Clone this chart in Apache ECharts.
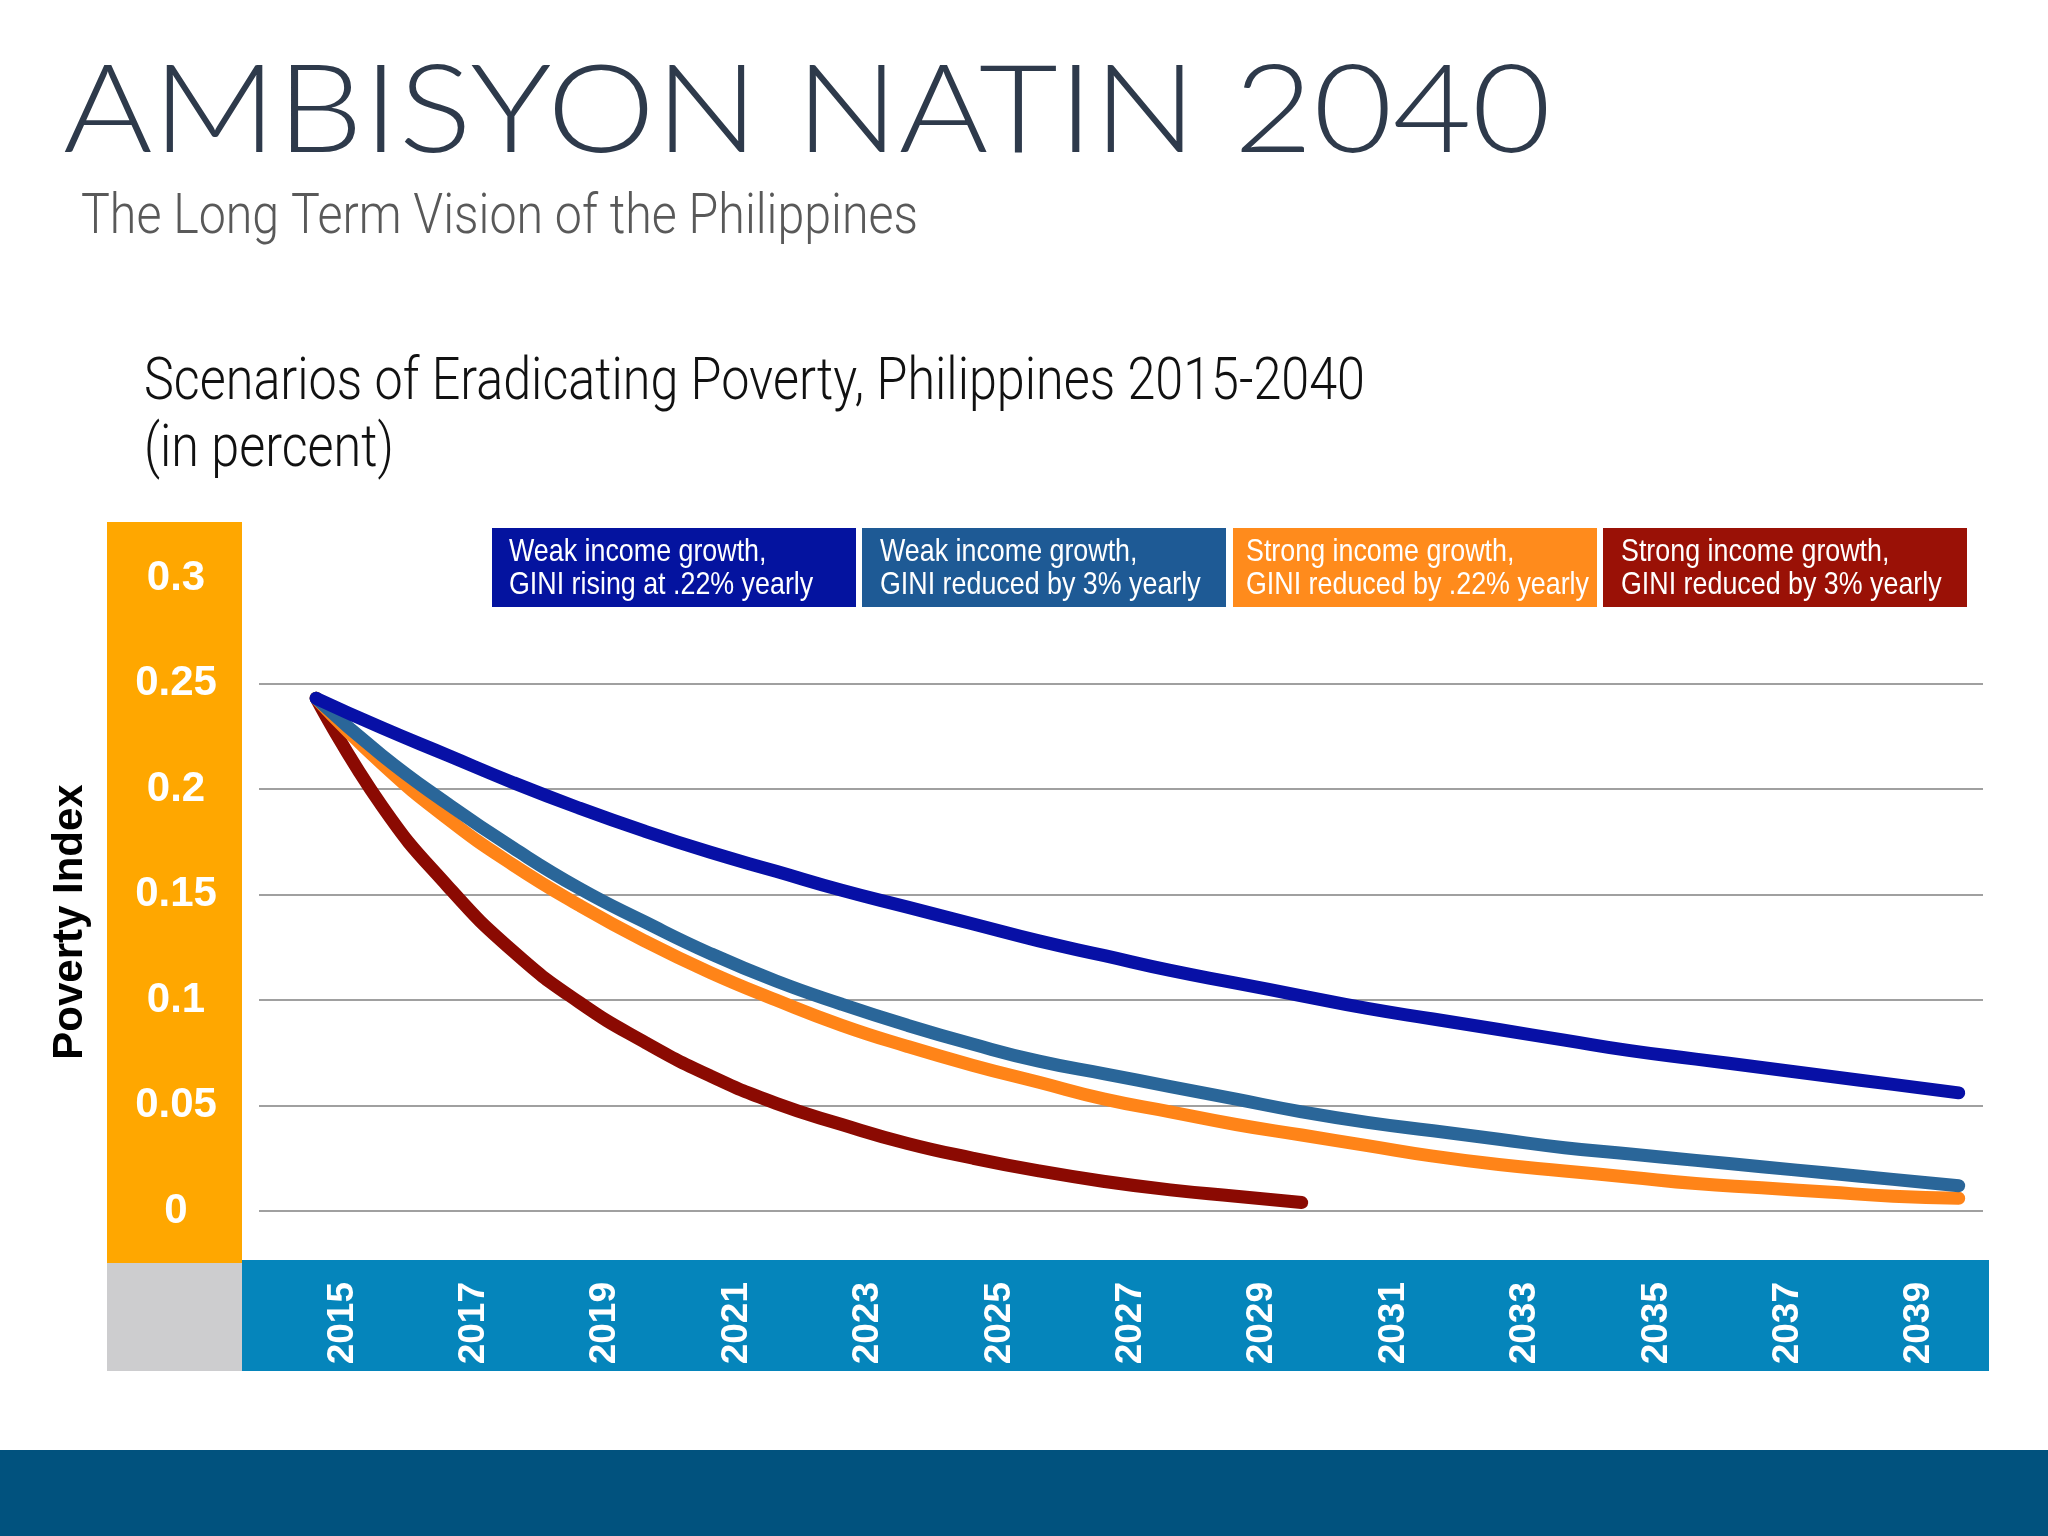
<!DOCTYPE html>
<html>
<head>
<meta charset="utf-8">
<script src="https://cdn.jsdelivr.net/npm/echarts@6/dist/echarts.min.js"></script>
<style>
html,body{margin:0;padding:0;background:#fff;}
#chart{width:2048px;height:1536px;}
</style>
</head>
<body>
<div id="chart"></div>
<script>
// ---- data ----
const years = [2015,2016,2017,2018,2019,2020,2021,2022,2023,2024,2025,2026,2027,2028,2029,2030,2031,2032,2033,2034,2035,2036,2037,2038,2039,2040];
const yearLabels = [2015,2017,2019,2021,2023,2025,2027,2029,2031,2033,2035,2037,2039];
const yTicks = [0, 0.05, 0.1, 0.15, 0.2, 0.25, 0.3];
const seriesNames = [
  'Weak income growth,\nGINI rising at .22% yearly',
  'Weak income growth,\nGINI reduced by 3% yearly',
  'Strong income growth,\nGINI reduced by .22% yearly',
  'Strong income growth,\nGINI reduced by 3% yearly'
];
const weakRising = [0.243,0.229,0.216,0.203,0.191,0.180,0.170,0.161,0.152,0.144,0.136,0.128,0.121,0.114,0.108,0.102,0.096,0.091,0.086,0.081,0.076,0.072,0.068,0.064,0.060,0.056];
const weakReduced3 = [0.243,0.216,0.193,0.172,0.153,0.137,0.122,0.109,0.098,0.088,0.079,0.071,0.065,0.059,0.053,0.047,0.042,0.038,0.034,0.030,0.027,0.024,0.021,0.018,0.015,0.012];
const strongReduced022 = [0.243,0.212,0.186,0.164,0.145,0.128,0.113,0.100,0.088,0.078,0.069,0.061,0.053,0.047,0.041,0.036,0.031,0.026,0.022,0.019,0.016,0.013,0.011,0.009,0.007,0.006];
const strongReduced3 = [0.243,0.192,0.154,0.123,0.099,0.080,0.064,0.051,0.041,0.032,0.025,0.019,0.014,0.010,0.007,0.004];

const seriesValues = [weakRising, weakReduced3, strongReduced022, strongReduced3];
const lineColors = ['#0710A6','#2A6699','#FF8418','#8B0A02'];
const legendColors = ['#04139F','#1E5A95','#FF8B1C','#9A1106'];

// ---- helpers ----
const measureCtx = document.createElement('canvas').getContext('2d');
function fitScale(text, font, target) {
  measureCtx.font = font;
  return target / measureCtx.measureText(text).width;
}
function scaledText(text, font, x, y, targetWidth, fill, sx) {
  const s = sx != null ? sx : fitScale(text, font, targetWidth);
  return {
    type: 'text', x: x, y: y, scaleX: s, scaleY: 1, z: 5,
    style: { text: text, font: font, fill: fill, align: 'left', verticalAlign: 'middle' }
  };
}

const sans = "'Liberation Sans', Arial, sans-serif";
const titleFont = "300 122px Lato, 'Open Sans', sans-serif";
const subFont = "300 56px Roboto, 'Liberation Sans', sans-serif";
const chartTitleFont = "300 60px Roboto, 'Liberation Sans', sans-serif";
const legendFont = "32px " + sans;

const graphics = [
  { type: 'rect', z: -10, shape: { x: 107, y: 522, width: 135, height: 741 }, style: { fill: '#FFA700' } },
  { type: 'rect', z: -10, shape: { x: 107, y: 1263, width: 135, height: 108 }, style: { fill: '#CDCDCF' } },
  { type: 'rect', z: -10, shape: { x: 242, y: 1260, width: 1747, height: 111 }, style: { fill: '#0585BB' } },
  { type: 'rect', z: -10, shape: { x: 0, y: 1450, width: 2048, height: 86 }, style: { fill: '#01527E' } },
  scaledText('AMBISYON NATIN 2040', titleFont, 63, 113, 1488, '#2E3A4B'),
  scaledText('The Long Term Vision of the Philippines', subFont, 81, 219, 837, '#595959'),
  scaledText('Scenarios of Eradicating Poverty, Philippines 2015-2040', chartTitleFont, 144, 384, 1221, '#111111'),
  { type: 'text', x: 70, y: 922, rotation: Math.PI / 2, z: 5,
    style: { text: 'Poverty Index', fill: '#000000', font: "bold 42px " + sans, align: 'center', verticalAlign: 'middle' } }
];
// "(in percent)" uses same horizontal scale as the title line
graphics.push(scaledText('(in percent)', chartTitleFont, 144, 451, null, '#111111',
  fitScale('Scenarios of Eradicating Poverty, Philippines 2015-2040', chartTitleFont, 1221)));

// legend boxes
const legendX = [492, 862, 1233, 1603];
const legendPad = [17, 18, 13, 18];
const legendScale = fitScale('GINI reduced by .22% yearly', legendFont, 343);
seriesNames.forEach((n, i) => {
  const lines = n.split('\n');
  graphics.push({ type: 'rect', z: 4, shape: { x: legendX[i], y: 528, width: 364, height: 79 }, style: { fill: legendColors[i] } });
  graphics.push(scaledText(lines[0], legendFont, legendX[i] + legendPad[i], 552, null, '#ffffff', legendScale));
  graphics.push(scaledText(lines[1], legendFont, legendX[i] + legendPad[i], 585, null, '#ffffff', legendScale));
});

const chart = echarts.init(document.getElementById('chart'), null, {renderer:'canvas'});

const option = {
  backgroundColor: '#ffffff',
  animation: false,
  grid: { left: 259, right: 65, top: 578, bottom: 325, containLabel: false },
  xAxis: [
    {
      type: 'value', min: 2014.13, max: 2040.37,
      axisLine: { show: false }, axisTick: { show: false },
      axisLabel: { show: false }, splitLine: { show: false }
    },
    {
      type: 'value', min: 2013.73, max: 2039.97, position: 'bottom',
      axisLine: { show: false }, axisTick: { show: false }, splitLine: { show: false },
      axisLabel: {
        show: true, rotate: 90, margin: 71,
        customValues: yearLabels,
        formatter: v => String(Math.round(v)),
        color: '#ffffff', fontWeight: 'bold', fontSize: 37, fontFamily: sans
      }
    }
  ],
  yAxis: {
    type: 'value', min: yTicks[0], max: yTicks[yTicks.length - 1], interval: 0.05,
    axisLine: { show: false }, axisTick: { show: false },
    axisLabel: {
      align: 'center', margin: 83,
      color: '#ffffff', fontWeight: 'bold', fontSize: 42, fontFamily: sans,
      formatter: v => String(+v.toFixed(2))
    },
    splitLine: {
      show: true,
      lineStyle: { color: ['#A0A0A0','#A0A0A0','#A0A0A0','#A0A0A0','#A0A0A0','#A0A0A0','rgba(0,0,0,0)'], width: 2 }
    }
  },
  graphic: graphics,
  series: seriesValues.map((vals, i) => ({
    name: seriesNames[i],
    type: 'line',
    xAxisIndex: 0,
    smooth: true,
    symbol: 'none',
    lineStyle: { color: lineColors[i], width: 13, cap: 'round' },
    itemStyle: { color: lineColors[i] },
    z: 2 + (3 - i),
    data: vals.map((v, k) => [years[k], v])
  }))
};
chart.setOption(option);
</script>
</body>
</html>
